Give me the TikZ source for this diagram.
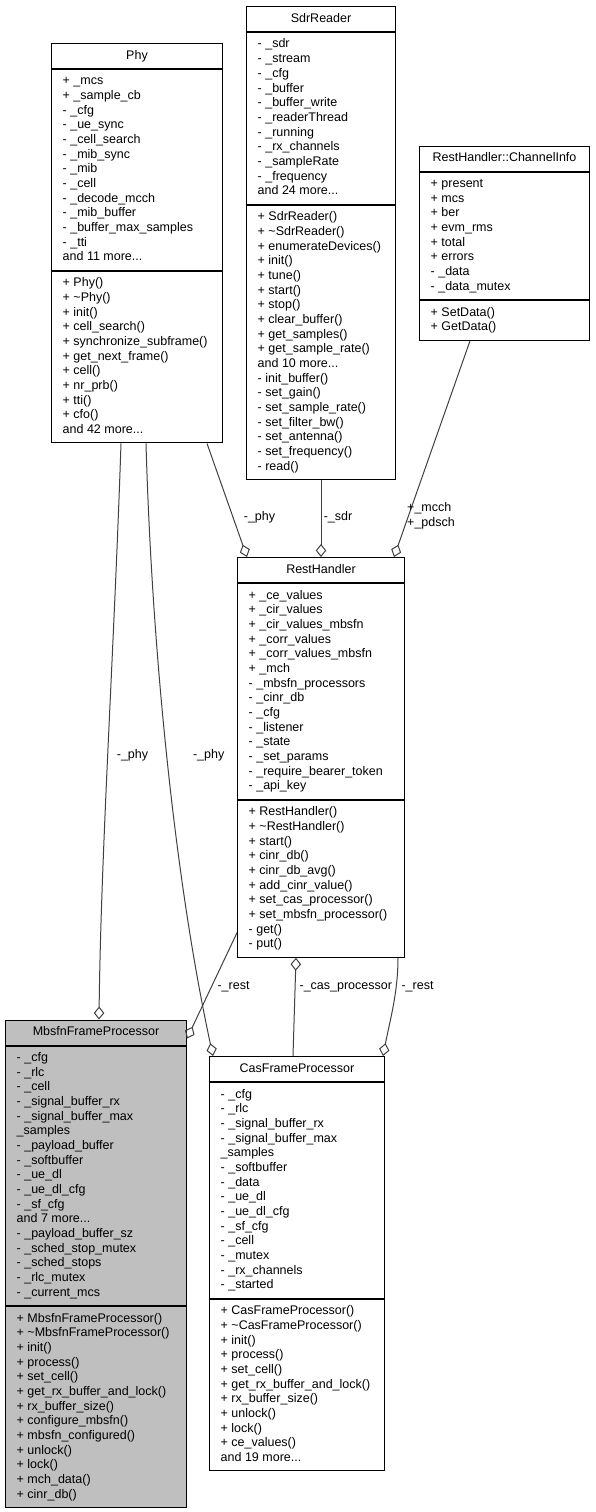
\documentclass[tikz,border=0pt]{standalone}
\usepackage{fontspec}
\setmainfont{Liberation Sans}
\usetikzlibrary{arrows.meta,calc}
\definecolor{edgegray}{HTML}{404040}
\definecolor{focusgray}{HTML}{BFBFBF}
\newcommand\andmore[1]{and #1 more...}
\newcommand\tl{\textasciitilde}
% title compartment: #1 name, #2 x, #3 y, #4 width, #5 title, #6 options
\newcommand\ctitle[6]{%
  \node[titlebox,#6,minimum width=#4pt,anchor=north west] (#1T) at (#2,#3) {#5};}
% member compartment: #1 name, #2 node above, #3 width, #4 number of lines, #5 options, #6 lines
\newcommand\ccomp[6]{%
  \pgfmathsetmacro\cht{#4*14.67+10.33}%
  \node[compbox,#5,minimum width=#3pt,minimum height=\cht pt,anchor=north west] (#1) at (#2.south west) {};
  \foreach \t [count=\i] in {#6} {
    \node[linetext,anchor=base west] (#1-\i) at ($(#1.north west)+(11.5,{16+(\i-1)*14.67})$) {\t};
  }
}
\begin{document}
\begin{tikzpicture}[x=1pt,y=-1pt,
  font=\fontsize{12.5}{14.67}\selectfont,
  titlebox/.style={draw=black,line width=1pt,fill=white,minimum height=25pt,inner sep=0pt,text height=9.4pt,text depth=2.6pt},
  compbox/.style={draw=black,line width=1pt,fill=white,inner sep=0pt},
  linetext/.style={inner sep=0pt,text=black},
  focus/.style={fill=focusgray},
  agg/.style={draw=edgegray,line width=1pt,-{Diamond[open,length=13pt,width=10.5pt]}},
  elabel/.style={inner sep=0pt,text=black,align=left}]
\useasboundingbox (0,0) rectangle (595,1512);

% ---------- Phy ----------
\ctitle{phy}{51}{42.7}{171}{Phy}{}
\ccomp{phyA}{phyT}{171}{13}{}{+ \_mcs,+ \_sample\_cb,- \_cfg,- \_ue\_sync,- \_cell\_search,- \_mib\_sync,- \_mib,- \_cell,- \_decode\_mcch,- \_mib\_buffer,- \_buffer\_max\_samples,- \_tti,\andmore{11}}
\ccomp{phyM}{phyA}{171}{11}{}{+ Phy(),+ \tl Phy(),+ init(),+ cell\_search(),+ synchronize\_subframe(),+ get\_next\_frame(),+ cell(),+ nr\_prb(),+ tti(),+ cfo(),\andmore{42}}

% ---------- SdrReader ----------
\ctitle{sdr}{246}{6}{149}{SdrReader}{}
\ccomp{sdrA}{sdrT}{149}{11}{}{- \_sdr,- \_stream,- \_cfg,- \_buffer,- \_buffer\_write,- \_readerThread,- \_running,- \_rx\_channels,- \_sampleRate,- \_frequency,\andmore{24}}
\ccomp{sdrM}{sdrA}{149}{18}{}{+ SdrReader(),+ \tl SdrReader(),+ enumerateDevices(),+ init(),+ tune(),+ start(),+ stop(),+ clear\_buffer(),+ get\_samples(),+ get\_sample\_rate(),\andmore{10},- init\_buffer(),- set\_gain(),- set\_sample\_rate(),- set\_filter\_bw(),- set\_antenna(),- set\_frequency(),- read()}

% ---------- RestHandler::ChannelInfo ----------
\ctitle{ci}{419}{145.5}{170}{RestHandler::ChannelInfo}{}
\ccomp{ciA}{ciT}{170}{8}{}{+ present,+ mcs,+ ber,+ evm\_rms,+ total,+ errors,- \_data,- \_data\_mutex}
\ccomp{ciM}{ciA}{170}{2}{}{+ SetData(),+ GetData()}

% ---------- RestHandler ----------
\ctitle{rh}{237}{557}{167}{RestHandler}{}
\ccomp{rhA}{rhT}{167}{14}{}{+ \_ce\_values,+ \_cir\_values,+ \_cir\_values\_mbsfn,+ \_corr\_values,+ \_corr\_values\_mbsfn,+ \_mch,- \_mbsfn\_processors,- \_cinr\_db,- \_cfg,- \_listener,- \_state,- \_set\_params,- \_require\_bearer\_token,- \_api\_key}
\ccomp{rhM}{rhA}{167}{10}{}{+ RestHandler(),+ \tl RestHandler(),+ start(),+ cinr\_db(),+ cinr\_db\_avg(),+ add\_cinr\_value(),+ set\_cas\_processor(),+ set\_mbsfn\_processor(),- get(),- put()}

% ---------- MbsfnFrameProcessor ----------
\ctitle{mb}{5}{1019.5}{181}{MbsfnFrameProcessor}{focus}
\ccomp{mbA}{mbT}{181}{17}{focus}{- \_cfg,- \_rlc,- \_cell,- \_signal\_buffer\_rx,- \_signal\_buffer\_max,\_samples,- \_payload\_buffer,- \_softbuffer,- \_ue\_dl,- \_ue\_dl\_cfg,- \_sf\_cfg,\andmore{7},- \_payload\_buffer\_sz,- \_sched\_stop\_mutex,- \_sched\_stops,- \_rlc\_mutex,- \_current\_mcs}
\ccomp{mbM}{mbA}{181}{13}{focus}{+ MbsfnFrameProcessor(),+ \tl MbsfnFrameProcessor(),+ init(),+ process(),+ set\_cell(),+ get\_rx\_buffer\_and\_lock(),+ rx\_buffer\_size(),+ configure\_mbsfn(),+ mbsfn\_configured(),+ unlock(),+ lock(),+ mch\_data(),+ cinr\_db()}

% ---------- CasFrameProcessor ----------
\ctitle{cas}{209}{1056}{175}{CasFrameProcessor}{}
\ccomp{casA}{casT}{175}{14}{}{- \_cfg,- \_rlc,- \_signal\_buffer\_rx,- \_signal\_buffer\_max,\_samples,- \_softbuffer,- \_data,- \_ue\_dl,- \_ue\_dl\_cfg,- \_sf\_cfg,- \_cell,- \_mutex,- \_rx\_channels,- \_started}
\ccomp{casM}{casA}{175}{11}{}{+ CasFrameProcessor(),+ \tl CasFrameProcessor(),+ init(),+ process(),+ set\_cell(),+ get\_rx\_buffer\_and\_lock(),+ rx\_buffer\_size(),+ unlock(),+ lock(),+ ce\_values(),\andmore{19}}

% ---------- connectors ----------
\draw[agg] ($(phyM.south west)+(156,0)$) -- ($(rhT.north west)+(10,0)$);
\draw[agg] ($(sdrM.south west)+(75,0)$) -- ($(rhT.north west)+(84,0)$);
\draw[agg] ($(ciM.south west)+(51,0)$) -- ($(rhT.north west)+(157,0)$);
\draw[agg] ($(phyM.south west)+(70,0)$) .. controls +(-7,209) and +(2,-169) .. ($(mbT.north west)+(94,0)$);
\draw[agg] ($(phyM.south west)+(95,0)$) .. controls +(6,209) and +(-38,-176) .. ($(casT.north west)+(4,0)$);
\draw[agg] ($(rhM.south west)+(0,-25)$) -- ($(mbT.north east)+(0,19)$);
\draw[agg] ($(casT.north west)+(84,0)$) -- ($(rhM.south west)+(59,0)$);
\draw[agg] ($(rhM.south west)+(161,0)$) .. controls +(0,35) and +(7,-36) .. ($(casT.north west)+(174,0)$);

% ---------- connector labels ----------
\node[elabel] (l1) at (259.5,517) {-\_phy};
\node[elabel] (l2) at (338,517) {-\_sdr};
\node[elabel,anchor=west] (l3) at (407,516) {+\_mcch\\+\_pdsch};
\node[elabel] (l4) at (132.5,755) {-\_phy};
\node[elabel] (l5) at (208.7,755) {-\_phy};
\node[elabel] (l6) at (233.5,987) {-\_rest};
\node[elabel] (l7) at (345.8,987) {-\_cas\_processor};
\node[elabel] (l8) at (417.5,987) {-\_rest};
\end{tikzpicture}
\end{document}
